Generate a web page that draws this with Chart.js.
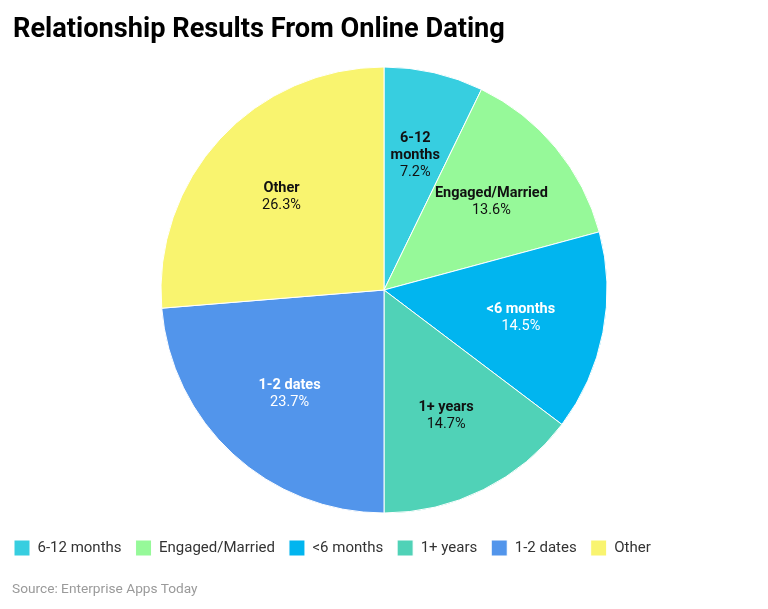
<!DOCTYPE html>
<html>
<head>
<meta charset="utf-8">
<script src="https://cdn.jsdelivr.net/npm/chart.js@4.4.0/dist/chart.umd.min.js"></script>
<style>
  body { margin: 0; background: #fff; font-family: Roboto, "Noto Sans", sans-serif; }
  #wrap { position: relative; width: 768px; height: 609px; }
  #title { position: absolute; left: 13px; top: 10px; font-size: 27.2px; font-weight: 700; color: #000; line-height: 36px; }
  #source { position: absolute; left: 12px; top: 578px; font-size: 13.7px; color: #9a9a9a; line-height: 20px; }
</style>
</head>
<body>
<div id="wrap">
  <canvas id="chart" width="768" height="609"></canvas>
  <div id="title">Relationship Results From Online Dating</div>
  <div id="source">Source: Enterprise Apps Today</div>
</div>
<script>
// Data
const categories = ["6-12 months", "Engaged/Married", "<6 months", "1+ years", "1-2 dates", "Other"];
const shares = [7.2, 13.6, 14.5, 14.7, 23.7, 26.3];
const sliceColors = ["#37cee0", "#96f999", "#01b5ef", "#50d2b7", "#5295eb", "#f9f46f"];
const labelColors = ["#111", "#111", "#fff", "#111", "#fff", "#111"];

// draws name + percent inside each slice
const sliceLabels = {
  id: "sliceLabels",
  afterDatasetsDraw(chart) {
    const ctx = chart.ctx;
    const meta = chart.getDatasetMeta(0);
    meta.data.forEach((arc, i) => {
      const p = arc.getProps(["x", "y", "startAngle", "endAngle", "outerRadius"], true);
      const mid = (p.startAngle + p.endAngle) / 2;
      const cx = p.x + Math.cos(mid) * p.outerRadius * 0.625;
      const cy = p.y + Math.sin(mid) * p.outerRadius * 0.625 + 1;
      // narrow slices get the name on two lines
      const nameLines = shares[i] < 10 ? categories[i].split(" ") : [categories[i]];
      const lines = nameLines.map(t => ({ t, bold: true }));
      lines.push({ t: shares[i].toFixed(1) + "%", bold: false });
      const lh = 17;
      let y = cy - (lines.length - 1) * lh / 2;
      ctx.save();
      ctx.textAlign = "center";
      ctx.textBaseline = "middle";
      ctx.fillStyle = labelColors[i];
      lines.forEach(l => {
        ctx.font = (l.bold ? "700 " : "400 ") + "14.5px Roboto";
        ctx.fillText(l.t, cx, y);
        y += lh;
      });
      ctx.restore();
    });
  }
};

new Chart(document.getElementById("chart"), {
  type: "pie",
  data: {
    labels: categories,
    datasets: [{
      data: shares,
      backgroundColor: sliceColors,
      borderColor: "#ffffff",
      borderWidth: 1,
      radius: 223
    }]
  },
  options: {
    responsive: false,
    animation: false,
    events: [],
    layout: { padding: { top: 54, bottom: 43, left: 0, right: 0 } },
    plugins: {
      tooltip: { enabled: false },
      legend: {
        position: "bottom",
        align: "start",
        labels: {
          boxWidth: 16,
          boxHeight: 16,
          padding: 14,
          color: "#333",
          font: { family: "Roboto", size: 15 }
        }
      }
    }
  },
  plugins: [sliceLabels]
});
</script>
</body>
</html>
